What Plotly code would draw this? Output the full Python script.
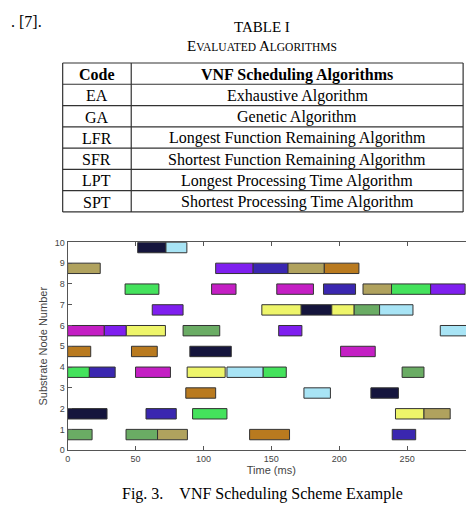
import plotly.graph_objects as go

codes = ["EA", "GA", "LFR", "SFR", "LPT", "SPT"]
algorithms = ["Exhaustive Algorithm", "Genetic Algorithm",
              "Longest Function Remaining Algorithm",
              "Shortest Function Remaining Algorithm",
              "Longest Processing Time Algorithm",
              "Shortest Processing Time Algorithm"]

colors = {
    "navy": "#15153d", "lightblue": "#a8e4f5", "olive": "#b0a25e",
    "purple": "#7f1fef", "indigo": "#3a27b0", "brown": "#b97a1f",
    "green": "#44e25c", "magenta": "#c41fc4", "yellow": "#eef56a",
    "greygreen": "#6aac64",
}

# (node, start ms, end ms, colour)
nodes = [10, 10,
         9, 9, 9, 9, 9,
         8, 8, 8, 8, 8, 8, 8,
         7, 7, 7, 7, 7, 7,
         6, 6, 6, 6, 6, 6,
         5, 5, 5, 5,
         4, 4, 4, 4, 4, 4, 4,
         3, 3, 3,
         2, 2, 2, 2, 2,
         1, 1, 1, 1, 1]
starts = [51.6, 72.4,
          0, 109, 136.6, 162.3, 189,
          42.3, 106, 154, 188.4, 217.5, 238.5, 267.3,
          62.3, 143, 172, 194.5, 211, 229.7,
          0, 27, 43.2, 85, 155.4, 274.4,
          0, 47, 90, 201,
          0, 16, 50, 88, 117.3, 144, 246.3,
          87, 174, 223.3,
          0, 57.7, 92, 241.4, 262.4,
          0, 43, 66.2, 134, 239]
ends = [72.4, 87.8,
        24, 136.6, 162.3, 189, 214.5,
        67.2, 124, 181, 212, 238.5, 267.3, 292.7,
        85, 172, 194.5, 211, 229.7, 254.3,
        27, 43.2, 72, 112, 172.5, 294.4,
        17, 66, 120.5, 226.5,
        16, 35, 75.7, 116, 144, 161, 262.4,
        109, 193.5, 243.6,
        29, 80, 117.3, 262.4, 281.7,
        18, 66.2, 88.2, 163.4, 256.3]
fills = ["navy", "lightblue",
         "olive", "purple", "indigo", "olive", "brown",
         "green", "magenta", "magenta", "indigo", "olive", "green", "purple",
         "purple", "yellow", "navy", "yellow", "greygreen", "lightblue",
         "magenta", "purple", "yellow", "greygreen", "purple", "lightblue",
         "brown", "brown", "navy", "magenta",
         "green", "indigo", "magenta", "yellow", "lightblue", "green", "greygreen",
         "brown", "lightblue", "navy",
         "navy", "indigo", "green", "yellow", "olive",
         "greygreen", "greygreen", "olive", "brown", "indigo"]

W, H = 474, 505
fig = go.Figure()

fig.add_trace(go.Bar(
    orientation="h",
    y=[n - 0.25 for n in nodes],
    base=starts,
    x=[e - s for s, e in zip(starts, ends)],
    width=0.5,
    marker=dict(color=[colors[c] for c in fills],
                line=dict(color="#333333", width=1)),
    showlegend=False,
))

serif = "Liberation Serif"
ann = []
shapes = []

def txt(x, y, text, size, anchor="center"):
    ann.append(dict(x=x / W, y=1 - y / H, text=text, xref="paper", yref="paper",
                    showarrow=False, xanchor=anchor, yanchor="middle",
                    font=dict(family=serif, size=size, color="black")))

def line(x0, y0, x1, y1):
    shapes.append(dict(type="line", xref="paper", yref="paper",
                       x0=x0 / W, x1=x1 / W, y0=1 - y0 / H, y1=1 - y1 / H,
                       line=dict(color="#333333", width=1.2)))

txt(-2, 9, ". [7].", 16, "left")
txt(253, 14, "TABLE I", 15)
txt(253, 34, "E<span style='font-size:11.5px'>VALUATED</span> "
             "A<span style='font-size:11.5px'>LGORITHMS</span>", 15)
txt(253, 491, "Fig. 3.&nbsp;&nbsp;&nbsp;&nbsp;VNF Scheduling Scheme Example", 16)

# table
top, rh = 51, 21.7
left, mid, right = 52, 121, 455
rows = [("<b>Code</b>", "<b>VNF Scheduling Algorithms</b>")] + list(zip(codes, algorithms))
for i, (c, a) in enumerate(rows):
    yc = top + rh * (i + 0.5) + 1
    txt((left + mid) / 2, yc, c, 16)
    txt((mid + right) / 2, yc, a, 16)
for i in range(len(rows) + 1):
    line(left, top + rh * i, right, top + rh * i)
bottom = top + rh * len(rows)
for xv in (left, mid, right):
    line(xv, top, xv, bottom)

axis_common = dict(showline=True, linecolor="#555555", mirror="ticks",
                   ticks="inside", ticklen=4, tickcolor="#555555",
                   showgrid=False, zeroline=False,
                   tickfont=dict(family="Liberation Sans", size=9, color="#444444"))

fig.update_layout(
    width=W, height=H,
    margin=dict(l=0, r=0, t=0, b=0),
    paper_bgcolor="white", plot_bgcolor="white",
    annotations=ann, shapes=shapes,
    xaxis=dict(domain=[57 / W, 467 / W], range=[0, 300], dtick=50,
               tickvals=[0, 50, 100, 150, 200, 250, 300],
               title=dict(text="Time (ms)", standoff=2,
                          font=dict(family="Liberation Sans", size=11, color="#444444")),
               **axis_common),
    yaxis=dict(domain=[1 - 446 / H, 1 - 234 / H], range=[0, 10], dtick=1,
               title=dict(text="Substrate Node Number", standoff=4,
                          font=dict(family="Liberation Sans", size=11, color="#444444")),
               **axis_common),
)

fig.write_html("out.html")
